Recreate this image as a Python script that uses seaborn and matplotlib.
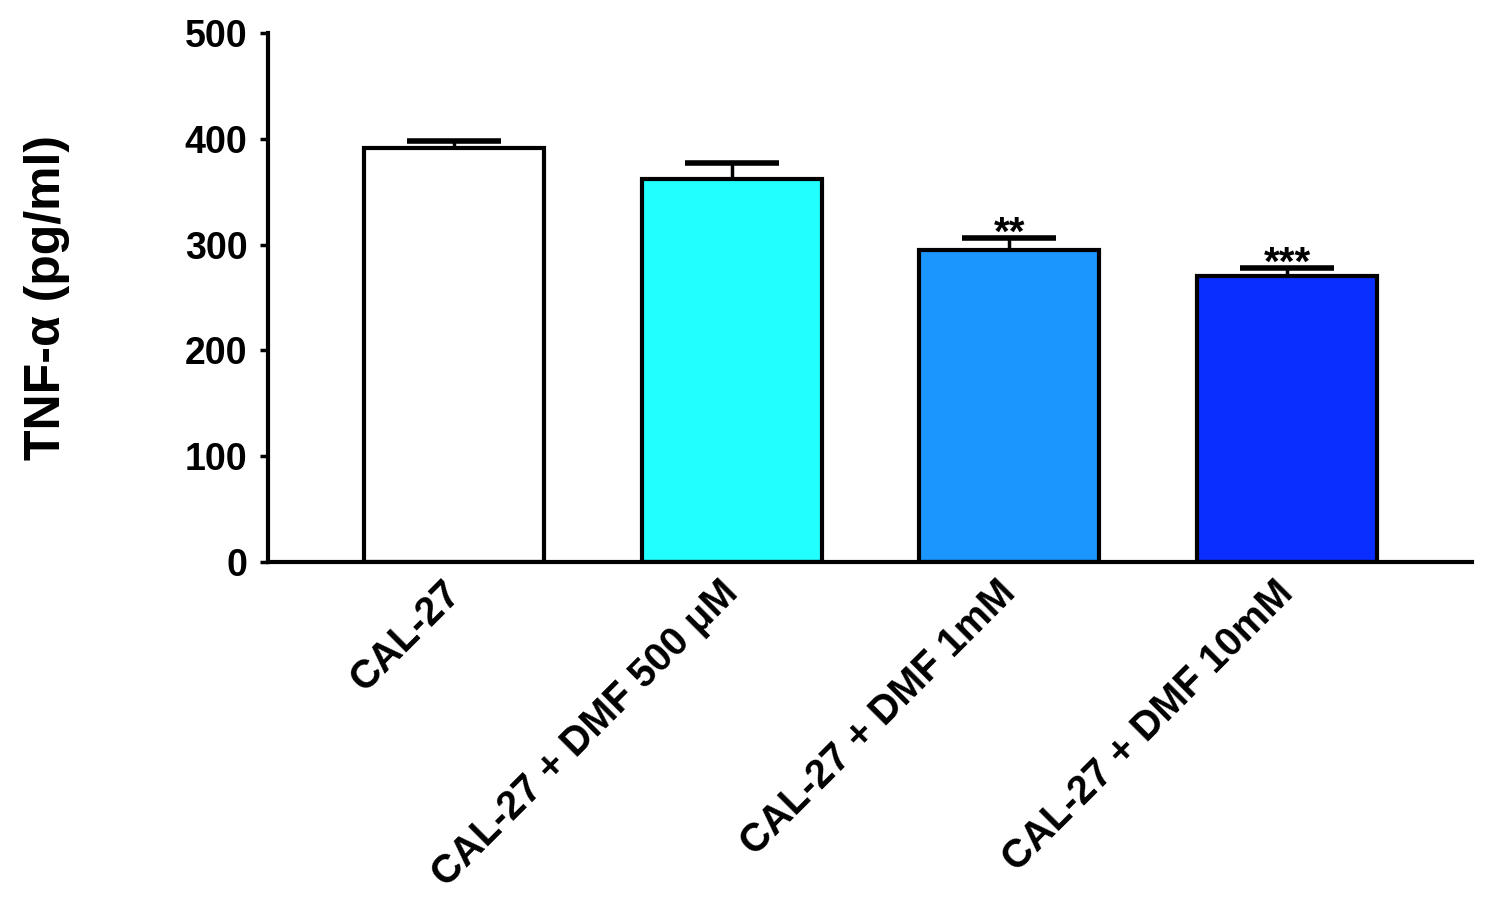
import seaborn as sns
import matplotlib.pyplot as plt
from matplotlib.transforms import ScaledTranslation

# values
groups = ["CAL-27", "CAL-27 + DMF 500 μM", "CAL-27 + DMF 1mM", "CAL-27 + DMF 10mM"]
means = [391, 362, 295, 270]
errors = [7, 15, 11, 8]
stars = ["", "", "**", "***"]
colors = ["#FFFFFF", "#22FFFF", "#1B96FF", "#0A2EFF"]
yticks = [0, 100, 200, 300, 400, 500]

sns.set_style("ticks")
plt.rcParams['font.family'] = ['Liberation Sans', 'DejaVu Sans']
plt.rcParams['font.weight'] = 'bold'
for key in ['text.color', 'axes.labelcolor', 'xtick.color', 'ytick.color', 'axes.edgecolor']:
    plt.rcParams[key] = 'black'

fig = plt.figure(figsize=(14.98, 9.16), dpi=100)
ax = fig.add_axes([0.179, 0.3865, 0.8036, 0.5775])

sns.barplot(x=groups, y=means, hue=groups, palette=colors, legend=False,
            edgecolor="black", linewidth=3, width=0.648, saturation=1, ax=ax)
_, caps, _ = ax.errorbar(range(len(groups)), means, yerr=[[0] * len(errors), errors],
                         fmt="none", ecolor="black", elinewidth=2.5, capsize=34,
                         capthick=4, zorder=1)
caps[0].remove()  # only the upper cap is drawn

for i, s in enumerate(stars):
    if s:
        ax.text(i, means[i] + errors[i] - 6.5, s, ha="center", va="baseline",
                fontsize=29, fontweight="bold")

ax.set_ylim(0, 500)
ax.set_xlim(-0.67, 3.666)
ax.set_yticks(yticks)
ax.tick_params(axis="y", length=6, width=2.5, pad=9, labelsize=27)
ax.tick_params(axis="x", length=0, pad=8.5, labelsize=28.5)
for sp in ["left", "bottom"]:
    ax.spines[sp].set_linewidth(3)
sns.despine(ax=ax)

ax.set_ylabel("TNF-α (pg/ml)", fontsize=36, fontweight="bold")
ax.yaxis.set_label_coords(-0.1645, 0.5)

shift = ScaledTranslation(-0.13, 0, fig.dpi_scale_trans)
for lbl in ax.get_xticklabels():
    lbl.set_rotation(45)
    lbl.set_ha("right")
    lbl.set_va("top")
    lbl.set_rotation_mode("anchor")
    lbl.set_fontweight("bold")
    lbl.set_transform(lbl.get_transform() + shift)

fig.savefig("out.png", dpi=100)
